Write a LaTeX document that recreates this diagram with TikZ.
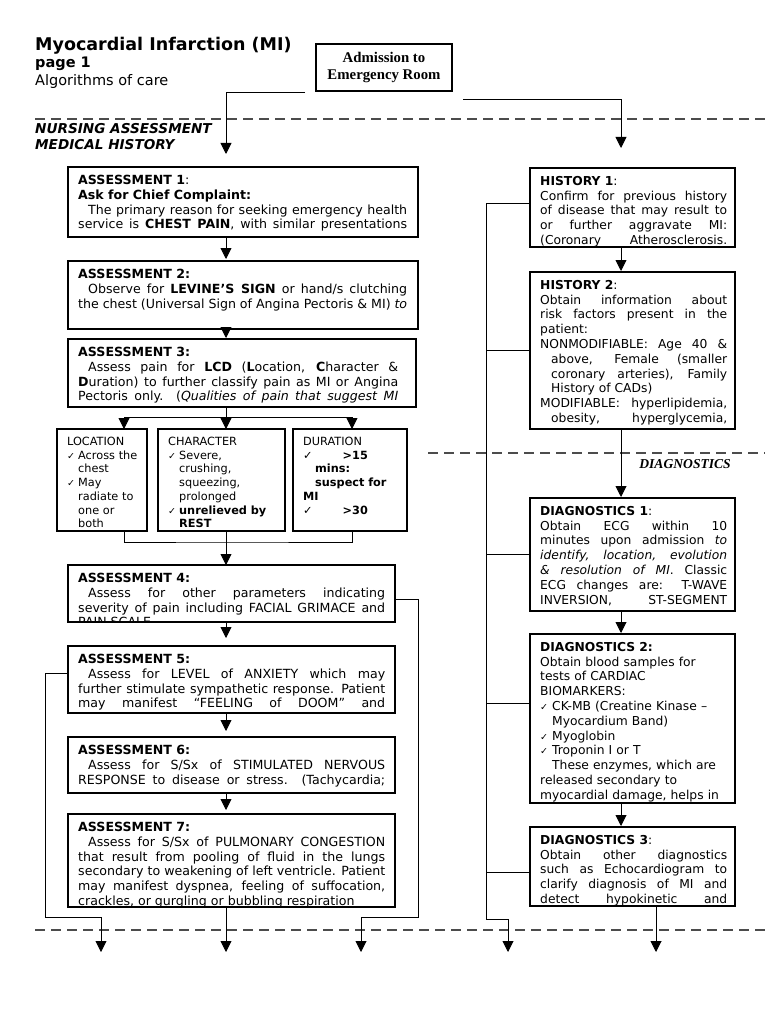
\documentclass[tikz,border=0pt]{standalone}
\usepackage{fontspec}
\setmainfont{DejaVu Sans}
\newfontfamily\admfont{Liberation Serif}
\usetikzlibrary{arrows.meta,calc,positioning}
\hbadness=10000
\vbadness=10000
\newcommand{\bodytext}{\fontsize{12.6}{14.8}\selectfont\parindent=0pt\tolerance=10000\hyphenpenalty=10000\exhyphenpenalty=10000}
\newcommand{\rightbody}{\fontsize{12.3}{14.8}\selectfont\parindent=0pt\tolerance=10000\hyphenpenalty=10000\exhyphenpenalty=10000}
\newcommand{\smallbody}{\fontsize{11.3}{13.7}\selectfont\parindent=0pt}
\newcommand{\firstind}{\hspace*{10pt}}
\newcommand{\jend}{{\parfillskip=0pt\par}}
\newcommand{\ckm}[1][11pt]{\makebox[#1][l]{\fontsize{9.5}{9.5}\selectfont ✓}}
\newcommand{\infobox}[5]{%
	\node[box, #3] (#1) at (#2) {};
	\begin{scope}
		\clip (#1.north west) rectangle (#1.south east);
		\node[boxtext, #4] (#1txt) at ([shift={(10,8)}]#1.north west) {#5};
	\end{scope}}

\begin{document}
\begin{tikzpicture}[x=1pt, y=-1pt,
	box/.style={draw, line width=1.1pt, anchor=north west, inner sep=0pt, outer sep=0pt},
	boxtext/.style={anchor=north west, inner sep=0pt, align=justify, font=\bodytext},
	smalltext/.style={boxtext, align=left, font=\smallbody},
	rtext/.style={font=\rightbody, text width=187pt},
	flow/.style={draw, line width=0.9pt, -{Triangle[length=11pt,width=11pt]}},
	divider/.style={draw, line width=1.4pt, black!70, dash pattern=on 10pt off 6pt},
	head/.style={anchor=base west, inner sep=0pt}]
			\path[fill=white] (0,0) rectangle (768,1024);
			\useasboundingbox (0,0) rectangle (768,1024);

			\node[head, font=\bfseries\fontsize{17.5}{20}\selectfont] (title) at (35,51) {Myocardial Infarction (MI)};
			\node[head, font=\bfseries\fontsize{14.5}{17}\selectfont] (page) at (35,68) {page 1};
			\node[head, font=\fontsize{14.5}{17}\selectfont] (algo) at (35,86) {Algorithms of care};
			\node[head, font=\bfseries\itshape\fontsize{13.6}{16}\selectfont] (nurse) at (35,134) {NURSING ASSESSMENT};
			\node[head, font=\bfseries\itshape\fontsize{13.6}{16}\selectfont] (medhist) at (35,150) {MEDICAL HISTORY};
			\node[anchor=base east, inner sep=0pt, font=\admfont\bfseries\itshape\fontsize{13.6}{16}\selectfont] (diag) at (731,468) {DIAGNOSTICS};

			\draw[divider] (35,119) -- (765,119);
			\draw[divider] (428,453) -- (765,453);
			\draw[divider] (35,930) -- (765,930);

			\node[box, minimum width=136pt, minimum height=47pt, align=center, font=\admfont\bfseries\fontsize{14.8}{17}\selectfont] (adm) at (316,44) {Admission to\\Emergency Room};

			\infobox{a1}{68,167}{minimum width=350pt, minimum height=70pt}{text width=329pt}{%
				\textbf{ASSESSMENT 1}:\newline
				\textbf{Ask for Chief Complaint:}\newline
				\firstind The primary reason for seeking emergency health\linebreak
				service is \textbf{CHEST PAIN}, with similar presentations\jend}
			\infobox{a2}{68,261}{minimum width=350pt, minimum height=68pt}{text width=329pt}{%
				\textbf{ASSESSMENT 2:}\newline
				\firstind Observe for \textbf{LEVINE’S SIGN} or hand/s clutching\linebreak
				the chest (Universal Sign of Angina Pectoris \& MI) \textit{to}\jend}
			\infobox{a3}{68,339}{minimum width=348pt, minimum height=68pt}{text width=320pt}{%
				\textbf{ASSESSMENT 3:}\newline
				\firstind Assess pain for \textbf{LCD} (\textbf{L}ocation, \textbf{C}haracter \&\linebreak
				\textbf{D}uration) to further classify pain as MI or Angina\linebreak
				Pectoris only. (\textit{Qualities of pain that suggest MI}\jend}

			\infobox{loc}{57,429}{minimum width=90pt, minimum height=102pt}{smalltext, text width=78pt}{%
				LOCATION\newline
				\ckm Across the\newline
				\hspace*{11pt}chest\newline
				\ckm May\newline
				\hspace*{11pt}radiate to\newline
				\hspace*{11pt}one or\newline
				\hspace*{11pt}both}
			\infobox{chr}{158,429}{minimum width=127pt, minimum height=102pt}{smalltext, text width=112pt}{%
				CHARACTER\newline
				\ckm Severe,\newline
				\hspace*{11pt}crushing,\newline
				\hspace*{11pt}squeezing,\newline
				\hspace*{11pt}prolonged\newline
				\ckm\textbf{unrelieved by}\newline
				\hspace*{11pt}\textbf{REST}}
			\infobox{dur}{293,429}{minimum width=114pt, minimum height=102pt}{smalltext, text width=100pt}{%
				DURATION\newline
				✓\hspace{30pt}\textbf{>15}\newline
				\hspace*{12pt}\textbf{mins:}\newline
				\hspace*{12pt}\textbf{suspect for}\newline
				\textbf{MI}\newline
				✓\hspace{30pt}\textbf{>30}}

			\infobox{a4}{68,565}{minimum width=327pt, minimum height=57pt}{text width=307pt}{%
				\textbf{ASSESSMENT 4:}\newline
				\firstind Assess for other parameters indicating\linebreak
				severity of pain including FACIAL GRIMACE and\linebreak
				PAIN SCALE.}
			\infobox{a5}{68,646}{minimum width=327pt, minimum height=67pt}{text width=307pt}{%
				\textbf{ASSESSMENT 5:}\newline
				\firstind Assess for LEVEL of ANXIETY which may\linebreak
				further stimulate sympathetic response. Patient\linebreak
				may manifest “FEELING of DOOM” and\jend}
			\infobox{a6}{68,737}{minimum width=327pt, minimum height=56pt}{text width=307pt}{%
				\textbf{ASSESSMENT 6:}\newline
				\firstind Assess for S/Sx of STIMULATED NERVOUS\linebreak
				RESPONSE to disease or stress. (Tachycardia;\jend}
			\infobox{a7}{68,814}{minimum width=327pt, minimum height=93pt}{text width=307pt}{%
				\textbf{ASSESSMENT 7:}\newline
				\firstind Assess for S/Sx of PULMONARY CONGESTION\linebreak
				that result from pooling of fluid in the lungs\linebreak
				secondary to weakening of left ventricle. Patient\linebreak
				may manifest dyspnea, feeling of suffocation,\linebreak
				crackles, or gurgling or bubbling respiration}

			\infobox{h1}{530,168}{minimum width=205pt, minimum height=79pt}{rtext}{%
				\textbf{HISTORY 1}:\newline
				Confirm for previous history\linebreak
				of disease that may result to\linebreak
				or further aggravate MI:\linebreak
				(Coronary Atherosclerosis.\jend}
			\infobox{h2}{530,272}{minimum width=205pt, minimum height=157pt}{rtext}{%
				\textbf{HISTORY 2}:\newline
				Obtain information about\linebreak
				risk factors present in the\linebreak
				patient:\par
				\hangindent=11pt\hangafter=1 NONMODIFIABLE: Age 40 \&\linebreak
				above, Female (smaller\linebreak
				coronary arteries), Family\linebreak
				History of CADs)\par
				\hangindent=11pt\hangafter=1 MODIFIABLE: hyperlipidemia,\linebreak
				obesity, hyperglycemia,\jend}
			\infobox{d1}{530,498}{minimum width=205pt, minimum height=113pt}{rtext}{%
				\textbf{DIAGNOSTICS 1}:\newline
				Obtain ECG within 10\linebreak
				minutes upon admission \textit{to}\linebreak
				\textit{identify, location, evolution}\linebreak
				\textit{\& resolution of MI}. Classic\linebreak
				ECG changes are: T-WAVE\linebreak
				INVERSION, ST-SEGMENT\jend}
			\infobox{d2}{530,634}{minimum width=205pt, minimum height=169pt}{rtext, align=left}{%
				\textbf{DIAGNOSTICS 2:}\newline
				Obtain blood samples for\newline
				tests of CARDIAC\newline
				BIOMARKERS:\par
				\hangindent=12pt\hangafter=1 \ckm[12pt]CK-MB (Creatine Kinase –\newline
				Myocardium Band)\par
				\ckm[12pt]Myoglobin\par
				\ckm[12pt]Troponin I or T\par
				\hspace*{12pt}These enzymes, which are\newline
				released secondary to\newline
				myocardial damage, helps in}
			\infobox{d3}{530,827}{minimum width=205pt, minimum height=79pt}{rtext}{%
				\textbf{DIAGNOSTICS 3}:\newline
				Obtain other diagnostics\linebreak
				such as Echocardiogram to\linebreak
				clarify diagnosis of MI and\linebreak
				detect hypokinetic and\jend}

			\coordinate (admL) at ([shift={(-11,1)}]adm.south west);
			\coordinate (admR) at ([shift={(11,8)}]adm.south east);
			\coordinate (topL) at (226,154);
			\coordinate (topR) at (621,148);
			\draw[flow] (admL) -| (topL);
			\draw[flow] (admR) -| (topR);

			\draw[flow, shorten >=2pt] (a1.south -| topL) -- (a2.north -| topL);
			\draw[flow, shorten >=1pt] (a2.south -| topL) -- (a3.north -| topL);
			\coordinate (jL) at (124,417);
			\coordinate (jM) at (226,417);
			\coordinate (jR) at (352,417);
			\draw[line width=0.9pt] (a3.south -| jM) -- (jM);
			\draw[line width=0.9pt] (jL) -- (jR);
			\draw[flow] (jL) -- (loc.north -| jL);
			\draw[flow] (jM) -- (chr.north -| jM);
			\draw[flow] (jR) -- (dur.north -| jR);
			\coordinate (kM) at (226,542);
			\draw[line width=0.9pt] (loc.south -| jL) |- (kM) -| (dur.south -| jR);
			\draw[flow] (chr.south -| kM) -- (a4.north -| kM);
			\draw[flow, shorten >=8pt] (a4.south -| kM) -- (a5.north -| kM);
			\draw[flow, shorten >=6pt] (a5.south -| kM) -- (a6.north -| kM);
			\draw[flow, shorten >=4pt] (a6.south -| kM) -- (a7.north -| kM);

			\coordinate (lTurn) at (45,917);
			\coordinate (mTurn) at (418,917);
			\coordinate (out1) at (101,952);
			\coordinate (out2) at (226,952);
			\coordinate (out3) at (361,952);
			\draw[flow] ([yshift=6.5pt]a5.west) -| (lTurn) -| (out1);
			\draw[flow] (a7.south -| out2) -- (out2);
			\draw[flow] ([yshift=-5.5pt]a4.east) -| (mTurn) -| (out3);

			\draw[flow, shorten >=1pt] (h1.south -| topR) -- (h2.north -| topR);
			\draw[flow, shorten >=1pt] (h2.south -| topR) -- (d1.north -| topR);
			\draw[flow, shorten >=1pt] (d1.south -| topR) -- (d2.north -| topR);
			\draw[flow, shorten >=1pt] (d2.south -| topR) -- (d3.north -| topR);

			\coordinate (rTurn) at (486,919);
			\coordinate (out4) at (508,952);
			\coordinate (out5) at (656,952);
			\draw[flow] ([yshift=4.5pt]h1.west) -| (rTurn) -| (out4);
			\draw[line width=0.9pt] (h2.west) -| (rTurn);
			\draw[line width=0.9pt] (d1.west) -| (rTurn);
			\draw[line width=0.9pt] ([yshift=15.5pt]d2.west) -| (rTurn);
			\draw[line width=0.9pt] ([yshift=-5.5pt]d3.west) -| (rTurn);
			\draw[flow] (d3.south -| out5) -- (out5);
		\end{tikzpicture}
\end{document}
